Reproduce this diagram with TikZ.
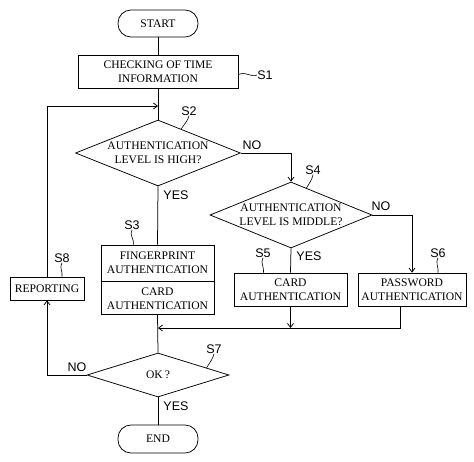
\documentclass[tikz,border=0pt]{standalone}
\usepackage{fontspec}
\setmainfont{Liberation Serif}
\newfontfamily\labfont{Liberation Sans}
\usetikzlibrary{shapes.geometric,arrows.meta,calc}
\begin{document}
\begin{tikzpicture}[x=1pt,y=-1pt,
  every node/.style={font=\fontsize{11.6}{14}\selectfont},
  line width=0.75pt,
  >={Straight Barb[length=4pt,width=6pt]},
  box/.style={draw,rectangle,align=center,inner sep=1pt},
  term/.style={draw,rectangle,rounded corners=13pt,minimum width=80pt,minimum height=27pt},
  dec/.style={draw,diamond,align=center,inner sep=0pt},
  lab/.style={font=\labfont\fontsize{12.5}{14}\selectfont,inner sep=0pt},
  squig/.style={line width=0.6pt}
]
\useasboundingbox (0,0) rectangle (474,461);

% nodes
\node[term] (start) at (158,23.5) {START};
\node[box,minimum width=160pt,minimum height=33pt] (s1) at (158,71.5) {CHECKING OF TIME\\INFORMATION};
\node[dec,minimum width=165pt,minimum height=66pt,aspect=2.5] (s2) at (158,153) {AUTHENTICATION\\LEVEL IS HIGH?};
\node[dec,minimum width=162pt,minimum height=66pt,aspect=2.45] (s4) at (291,215) {AUTHENTICATION\\LEVEL IS MIDDLE?};
\node[box,minimum width=113pt,minimum height=36pt] (s3a) at (157.5,263) {FINGERPRINT\\AUTHENTICATION};
\node[box,minimum width=113pt,minimum height=33pt,anchor=north] (s3b) at (s3a.south) {CARD\\AUTHENTICATION};
\node[box,minimum width=113pt,minimum height=33pt] (s5) at (290.5,289.5) {CARD\\AUTHENTICATION};
\node[box,minimum width=108pt,minimum height=33pt] (s6) at (412,289.5) {PASSWORD\\AUTHENTICATION};
\node[box,minimum width=74pt,minimum height=23pt] (s8) at (47,288.5) {REPORTING};
\node[dec,minimum width=142pt,minimum height=44pt,aspect=3.2] (s7) at (158,375) {OK\,?};
\node[term,minimum height=28pt] (end) at (158,439) {END};

% helper coordinates
\coordinate (j1) at (158,106);
\coordinate (j2) at (158,328);
\coordinate (s6out) at ($(s6.south)+(-12,0)$);

% connectors
\draw (start) -- (s1);
\draw (s1) -- (s2);
\draw[->] (s2.east) -| (s4.north);
\draw (s2.south) -- (s3a.north);
\draw[->] (s4.east) -| (s6.north);
\draw (s4.south) -- (s5.north);
\draw[->] (s6out) |- (j2);
\draw[->] (s5.south) -- (s5.south |- j2);
\draw (s3b.south) -- (s7.north);
\draw (s7.south) -- (end.north);
\draw[->] (s7.west) -| (s8.south);
\draw[->] (s8.north) |- (j1);

% branch labels
\node[lab] (n2) at (252,145) {NO};
\node[lab] (y2) at (176,195) {YES};
\node[lab] (n4) at (381,206) {NO};
\node[lab] (y4) at (309,256) {YES};
\node[lab] (n7) at (77,367) {NO};
\node[lab] (y7) at (176,406) {YES};

% step labels
\node[lab] (l1) at (265,75) {S1};
\node[lab] (l2) at (189,111) {S2};
\node[lab] (l3) at (132,225) {S3};
\node[lab] (l4) at (313,170) {S4};
\node[lab] (l5) at (263,253) {S5};
\node[lab] (l6) at (438,253) {S6};
\node[lab] (l7) at (214,349) {S7};
\node[lab] (l8) at (62,258) {S8};

% attachment points
\coordinate (a1) at ($(s1.east)+(0,3)$);
\coordinate (a2) at ($(s2.north)!0.28!(s2.east)$);
\coordinate (a3) at ($(s3a.north)+(-24,0)$);
\coordinate (a4) at ($(s4.north)!0.19!(s4.east)$);
\coordinate (a5) at ($(s5.north)+(-27,0)$);
\coordinate (a6) at ($(s6.north)+(26,0)$);
\coordinate (a7) at ($(s7.north)!0.68!(s7.east)$);
\coordinate (a8) at ($(s8.north)+(15,0)$);

% squiggles
\draw[squig] (a1) .. controls +(5,-4) and +(-5,3) .. (l1.west);
\draw[squig] (l2.south) .. controls +(-1,5) and +(3,-5) .. (a2);
\draw[squig] (l3.south) .. controls +(-3,5) and +(1,-5) .. (a3);
\draw[squig] (l4.south) .. controls +(-1,5) and +(3,-5) .. (a4);
\draw[squig] (l5.south) .. controls +(-3,5) and +(1,-5) .. (a5);
\draw[squig] (l6.south) .. controls +(-3,5) and +(1,-5) .. (a6);
\draw[squig] (l7.south) .. controls +(-1,5) and +(3,-5) .. (a7);
\draw[squig] (l8.south) .. controls +(-3,5) and +(1,-5) .. (a8);
\end{tikzpicture}
\end{document}
